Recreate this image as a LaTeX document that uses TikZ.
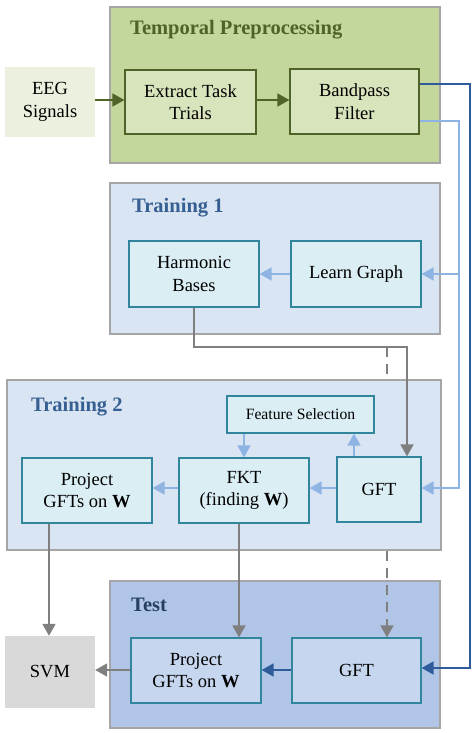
\documentclass[tikz,border=0pt]{standalone}
\usepackage{fontspec}
\setmainfont{Liberation Serif}
\usetikzlibrary{arrows.meta}
\definecolor{tpfill}{HTML}{C3D69B}
\definecolor{tpinner}{HTML}{D8E4BC}
\definecolor{tpborder}{HTML}{4F6228}
\definecolor{eegfill}{HTML}{EBF1DE}
\definecolor{trfill}{HTML}{D9E5F3}
\definecolor{trinner}{HTML}{DBEEF4}
\definecolor{tealb}{HTML}{31859C}
\definecolor{testfill}{HTML}{B1C5E7}
\definecolor{testinner}{HTML}{C6D6EE}
\definecolor{svmfill}{HTML}{D9D9D9}
\definecolor{ltblue}{HTML}{8DB4E2}
\definecolor{dkblue}{HTML}{2E5C9A}
\definecolor{grayarr}{HTML}{7F7F7F}
\definecolor{contborder}{HTML}{A6A6A6}
\definecolor{trtitle}{HTML}{376092}
\definecolor{testtitle}{HTML}{254061}
\begin{document}
\begin{tikzpicture}[x=1pt,y=-1pt,
  basebox/.style={rectangle, align=center, inner sep=0pt, font=\fontsize{18.5}{22.5}\selectfont},
  greenbox/.style={basebox, fill=tpinner, draw=tpborder, line width=1.2pt},
  bluebox/.style={basebox, fill=trinner, draw=tealb, line width=1.2pt},
  testbox/.style={basebox, fill=testinner, draw=tealb, line width=1.2pt},
  container/.style={rectangle, draw=contborder, line width=2.5pt, inner sep=0pt},
  titletext/.style={anchor=west, inner sep=0pt, font=\fontsize{20.5}{24}\selectfont\bfseries},
  arr/.style={line width=1.8pt, -{Triangle[length=12pt,width=13pt]}},
  greenarr/.style={arr, draw=tpborder, color=tpborder},
  ltarr/.style={arr, draw=ltblue, color=ltblue},
  dkarr/.style={arr, draw=dkblue, color=dkblue},
  grayarrow/.style={arr, draw=grayarr, color=grayarr},
]
\useasboundingbox (0,0) rectangle (474,733);

% ---------- Test container (drawn first, dashed line passes over it)
\node[container, fill=testfill, minimum width=330pt, minimum height=147pt] (testc) at (275,654.5) {};
\node[titletext, text=testtitle] (testt) at (131,605) {Test};
\node[testbox, minimum width=130pt, minimum height=65pt] (projtest) at (196,670.5) {Project\\GFTs on \textbf{W}};
\node[testbox, minimum width=129pt, minimum height=65pt] (gfttest) at (356.5,670.5) {GFT};

\coordinate (branch) at (387,347);
\draw[grayarrow, dashed, dash pattern=on 10pt off 7pt] (branch) -- (branch |- gfttest.north);

% ---------- Temporal Preprocessing
\node[container, fill=tpfill, minimum width=330pt, minimum height=156pt] (tpc) at (275,85) {};
\node[titletext, text=tpborder] (tpt) at (130,30) {Temporal Preprocessing};
\node[basebox, fill=eegfill, minimum width=90pt, minimum height=70pt] (eeg) at (50,102) {EEG\\Signals};
\node[greenbox, minimum width=131pt, minimum height=64pt] (extract) at (190.5,102) {Extract Task\\Trials};
\node[greenbox, minimum width=129pt, minimum height=65pt] (band) at (354.5,101.5) {Bandpass\\Filter};

% ---------- Training 1
\node[container, fill=trfill, minimum width=330pt, minimum height=151pt] (t1c) at (275,258.5) {};
\node[titletext, text=trtitle] (t1t) at (132,208) {Training 1};
\node[bluebox, minimum width=130pt, minimum height=66pt] (harm) at (194,274) {Harmonic\\Bases};
\node[bluebox, minimum width=130pt, minimum height=66pt] (learn) at (356,274) {Learn Graph};

% ---------- Training 2
\node[container, fill=trfill, minimum width=434pt, minimum height=170pt] (t2c) at (224,465) {};
\node[titletext, text=trtitle] (t2t) at (31,407) {Training 2};
\node[bluebox, minimum width=147pt, minimum height=37pt, font=\fontsize{15.7}{18}\selectfont] (fs) at (300.5,414.5) {Feature Selection};
\node[bluebox, minimum width=130pt, minimum height=65pt] (projt2) at (87,490.5) {Project\\GFTs on \textbf{W}};
\node[bluebox, minimum width=130pt, minimum height=65pt] (fkt) at (244,490.5) {FKT\\(finding \textbf{W})};
\node[bluebox, minimum width=84pt, minimum height=65pt] (gft2) at (379,489.5) {GFT};

% ---------- SVM
\node[basebox, fill=svmfill, minimum width=90pt, minimum height=72pt] (svm) at (50,672) {SVM};

% ---------- connectors
\draw[greenarr] (eeg.east |- 0,100) -- (extract.west |- 0,100);
\draw[greenarr] (extract.east |- 0,100) -- (band.west |- 0,100);

\coordinate (dk1) at (470,84);
\coordinate (lt1) at (459,121);
\draw[dkarr] (band.east |- dk1) -- (dk1) -- (dk1 |- 0,668) -- (gfttest.east |- 0,668);
\draw[ltarr] (band.east |- lt1) -- (lt1) -- (lt1 |- learn.east) -- (learn.east);
\draw[ltarr] (lt1 |- learn.east) -- (lt1 |- 0,488) -- (gft2.east |- 0,488);

\draw[ltarr] (learn.west) -- (harm.east);
\draw[grayarrow] (harm.south) -- (harm.south |- branch) -- (407,347) -- (407,347 |- gft2.north);

\draw[ltarr] (fs.south -| 244,0) -- (fkt.north -| 244,0);
\draw[ltarr] (gft2.north -| 354,0) -- (fs.south -| 354,0);
\draw[ltarr] (gft2.west |- 0,488) -- (fkt.east |- 0,488);
\draw[ltarr] (fkt.west |- 0,488) -- (projt2.east |- 0,488);

\draw[grayarrow] (projt2.south -| 49,0) -- (svm.north -| 49,0);
\draw[grayarrow] (fkt.south -| 239,0) -- (projtest.north -| 239,0);

\draw[dkarr] (gfttest.west |- 0,670) -- (projtest.east |- 0,670);
\draw[grayarrow] (projtest.west |- 0,670) -- (svm.east |- 0,670);
\end{tikzpicture}
\end{document}
